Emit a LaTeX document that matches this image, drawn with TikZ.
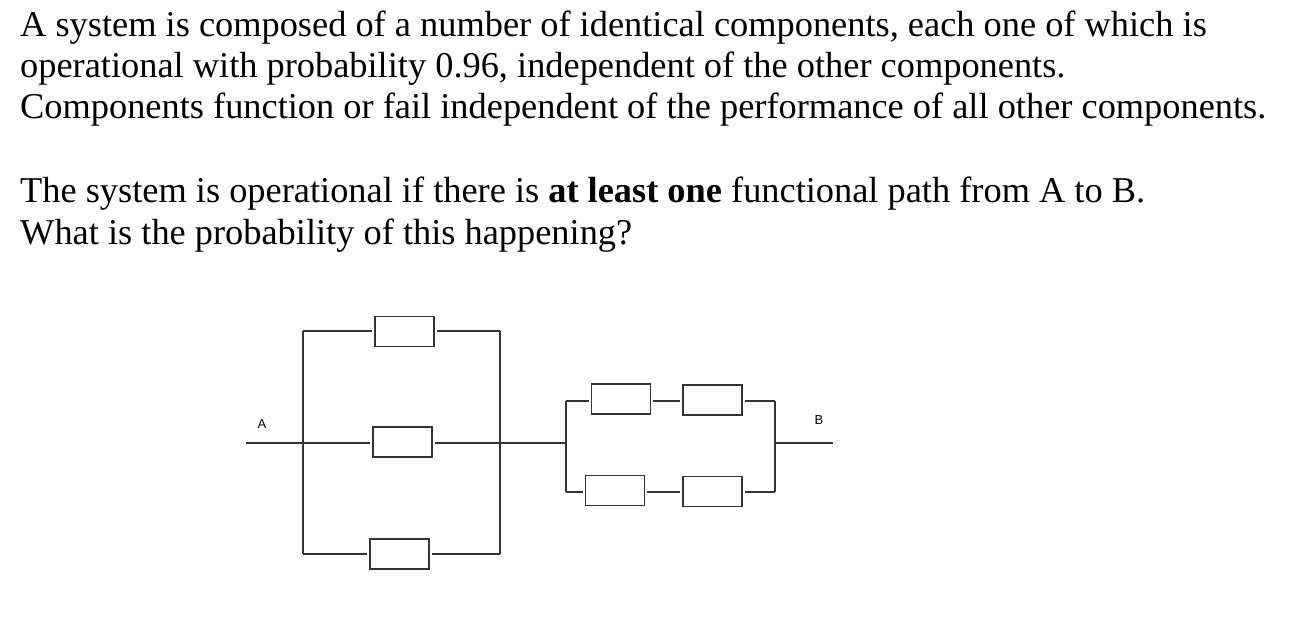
\documentclass[tikz,border=0pt]{standalone}
\usepackage{fontspec}
\setmainfont{Liberation Serif}
\newfontfamily\lblfont{Liberation Sans}
\begin{document}
\begin{tikzpicture}[x=1bp,y=-1bp,
  comp/.style={draw=black!80,line width=1.2bp,minimum width=59bp,minimum height=30bp,inner sep=0pt},
  wire/.style={draw=black!80,line width=1.2bp},
  gap/.style={shorten <=3bp,shorten >=3bp},
  txt/.style={anchor=base west,inner sep=0pt,font=\fontsize{36.5}{40}\selectfont},
  lbl/.style={font=\lblfont\fontsize{13}{15}\selectfont,inner sep=0pt}]
\useasboundingbox (0,0) rectangle (1290,624);
\node[txt] (t1) at (20,37) {A system is composed of a number of identical components, each one of which is};
\node[txt] (t2) at (20,78) {operational with probability 0.96, independent of the other components.};
\node[txt] (t3) at (20,119) {Components function or fail independent of the performance of all other components.};
\node[txt] (t4) at (20,203) {The system is operational if there is \textbf{at least one} functional path from A to B.};
\node[txt] (t5) at (20,245) {What is the probability of this happening?};
% components
\node[comp] (c1) at (404.5,331.5) {};
\node[comp] (c2) at (402.5,442) {};
\node[comp] (c3) at (399.5,554) {};
\node[comp] (d1) at (621,399) {};
\node[comp] (d2) at (712.5,400) {};
\node[comp] (d3) at (615,490.5) {};
\node[comp] (d4) at (712.5,491.5) {};
% junctions
\coordinate (a) at (246,443);
\coordinate (l1) at (303,331);
\coordinate (l3) at (303,554);
\coordinate (r1) at (500,331);
\coordinate (r3) at (500,554);
\coordinate (lm) at (303,443);
\coordinate (rm) at (500,443);
\coordinate (j) at (566,443);
\coordinate (jt) at (566,401);
\coordinate (jb) at (566,492);
\coordinate (k) at (775,443);
\coordinate (kt) at (775,401);
\coordinate (kb) at (775,492);
\coordinate (b) at (833,443);
\node[lbl] (la) at (262,424) {A};
\node[lbl] (lb) at (819,420) {B};
% wiring
\draw[wire] (a) -- (lm);
\draw[wire] (l1) -- (l3);
\draw[wire] (r1) -- (r3);
\draw[wire,shorten >=2bp] (l1) -- (c1.west |- l1);
\draw[wire,shorten <=2bp] (c1.east |- r1) -- (r1);
\draw[wire,shorten >=2bp] (lm) -- (c2.west |- lm);
\draw[wire,shorten <=2bp] (c2.east |- rm) -- (rm);
\draw[wire,shorten >=2bp] (l3) -- (c3.west |- l3);
\draw[wire,shorten <=2bp] (c3.east |- r3) -- (r3);
\draw[wire] (rm) -- (j);
\draw[wire] (jt) -- (jb);
\draw[wire] (kt) -- (kb);
\draw[wire] (k) -- (b);
\draw[wire,shorten >=2bp] (jt) -- (d1.west |- jt);
\draw[wire,shorten <=2bp,shorten >=2bp] (d1.east |- jt) -- (d2.west |- jt);
\draw[wire,shorten <=2bp] (d2.east |- kt) -- (kt);
\draw[wire,shorten >=2bp] (jb) -- (d3.west |- jb);
\draw[wire,shorten <=2bp,shorten >=2bp] (d3.east |- jb) -- (d4.west |- jb);
\draw[wire,shorten <=2bp] (d4.east |- kb) -- (kb);
\end{tikzpicture}
\end{document}
